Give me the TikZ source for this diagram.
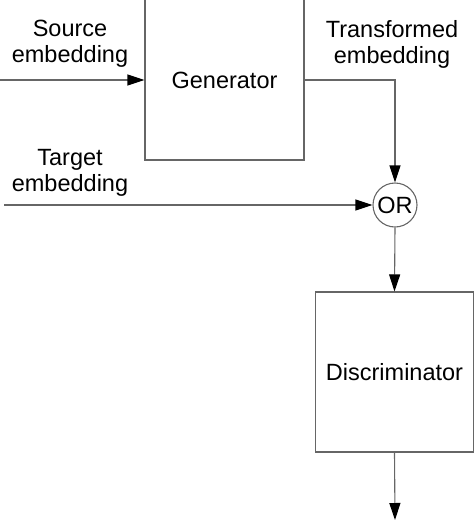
\documentclass[tikz,border=0pt]{standalone}
\usepackage{fontspec}
\setmainfont{Liberation Sans}
\usepackage{tikz}
\usetikzlibrary{arrows.meta,positioning,calc}

\tikzset{
  block/.style={draw=black!60, line width=1.1pt, rectangle, minimum width=159pt, inner sep=0pt},
  gate/.style={draw=black!60, line width=1.1pt, circle, minimum size=44pt, inner sep=0pt},
  lbl/.style={align=center, inner sep=0pt},
  flow/.style={draw=black!60, line width=1.1pt, -{Triangle[length=17pt,width=11pt,fill=black,color=black]}}
}

\begin{document}
\begin{tikzpicture}[x=1pt,y=-1pt, font=\fontsize{23.5}{26}\selectfont]
			\useasboundingbox (0,0) rectangle (474,520);
			\node[block, minimum height=200pt] (gen) at (224.5,60) {};
			\node[lbl] (gentext) at (224.5,80) {Generator};
			\node[gate] (or) at (395,205) {OR};
			\node[block, minimum height=160pt, minimum width=158pt] (disc) at (394.5,372) {Discriminator};
			\node[lbl] (src) at (70,44) {Source\\embedding};
			\node[lbl] (tgt) at (70,173) {Target\\embedding};
			\node[lbl] (trf) at (392,44) {Transformed\\embedding};
			\coordinate (srcin) at (0,80);
			\coordinate (tgtin) at (4,205);
			\coordinate (out) at (395,520);
			
			\path[flow] (srcin) -- (gen.west |- srcin);
			\path[flow] (gen.east |- srcin) -| (or.north);
			\path[flow] (tgtin) -- (or.west);
			\path[flow] (or.south) -- (disc.north);
			\path[flow] (disc.south) -- (out);
		\end{tikzpicture}
\end{document}
